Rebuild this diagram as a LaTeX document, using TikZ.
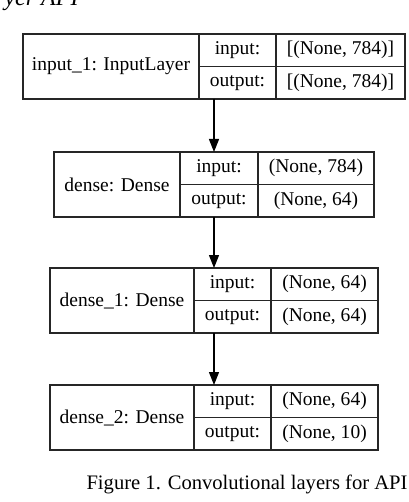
\documentclass[tikz,border=0pt]{standalone}
\usepackage{fontspec}
\setmainfont{Liberation Serif}
\usetikzlibrary{positioning, arrows.meta, fit}

\begin{document}
\begin{tikzpicture}[
    x=1pt, y=-1pt,
    cell/.style={draw=black!85, line width=1.1pt, outer sep=0pt, inner sep=0pt, minimum height=32.5pt, anchor=north west, font=\fontsize{19.5}{22}\selectfont},
    namecell/.style={cell, minimum height=65pt},
    layer/.style={inner sep=0pt, outer sep=0pt},
    arr/.style={-{Triangle[length=13pt, width=10pt]}, line width=1.2pt}
]
\useasboundingbox (0,0) rectangle (408,502);

% Title (cut off)
\node[anchor=base west, font=\fontsize{24}{28}\selectfont\itshape] (title) at (1,6) {yer API};

% input_1
\node[namecell, minimum width=176pt] (inname) at (23,34) {input\_1: InputLayer};
\node[cell, minimum width=77pt] (ininlbl) at (inname.north east) {input:};
\node[cell, minimum width=77pt] (inoutlbl) at (ininlbl.south west) {output:};
\node[cell, minimum width=129pt] (ininval) at (ininlbl.north east) {[(None, 784)]};
\node[cell, minimum width=129pt] (inoutval) at (inoutlbl.north east) {[(None, 784)]};
\node[layer, fit=(inname)(ininval)(inoutval)] (input1) {};

% dense
\node[namecell, minimum width=126pt] (dname) at (54,152) {dense: Dense};
\node[cell, minimum width=78pt] (dinlbl) at (dname.north east) {input:};
\node[cell, minimum width=78pt] (doutlbl) at (dinlbl.south west) {output:};
\node[cell, minimum width=116pt] (dinval) at (dinlbl.north east) {(None, 784)};
\node[cell, minimum width=116pt] (doutval) at (doutlbl.north east) {(None, 64)};
\node[layer, fit=(dname)(dinval)(doutval)] (dense) {};

% dense_1
\node[namecell, minimum width=144pt] (d1name) at (50,268) {dense\_1: Dense};
\node[cell, minimum width=77pt] (d1inlbl) at (d1name.north east) {input:};
\node[cell, minimum width=77pt] (d1outlbl) at (d1inlbl.south west) {output:};
\node[cell, minimum width=107pt] (d1inval) at (d1inlbl.north east) {(None, 64)};
\node[cell, minimum width=107pt] (d1outval) at (d1outlbl.north east) {(None, 64)};
\node[layer, fit=(d1name)(d1inval)(d1outval)] (dense1) {};

% dense_2
\node[namecell, minimum width=144pt] (d2name) at (50,385) {dense\_2: Dense};
\node[cell, minimum width=77pt] (d2inlbl) at (d2name.north east) {input:};
\node[cell, minimum width=77pt] (d2outlbl) at (d2inlbl.south west) {output:};
\node[cell, minimum width=107pt] (d2inval) at (d2inlbl.north east) {(None, 64)};
\node[cell, minimum width=107pt] (d2outval) at (d2outlbl.north east) {(None, 10)};
\node[layer, fit=(d2name)(d2inval)(d2outval)] (dense2) {};

% Arrows
\draw[arr] (input1.south) -- (dense.north);
\draw[arr] (dense.south) -- (dense1.north);
\draw[arr] (dense1.south) -- (dense2.north);

% Caption
\node[anchor=base west, font=\fontsize{20.6}{24}\selectfont] (caption) at (83,489) {Figure 1. Convolutional layers for API};

\end{tikzpicture}
\end{document}
